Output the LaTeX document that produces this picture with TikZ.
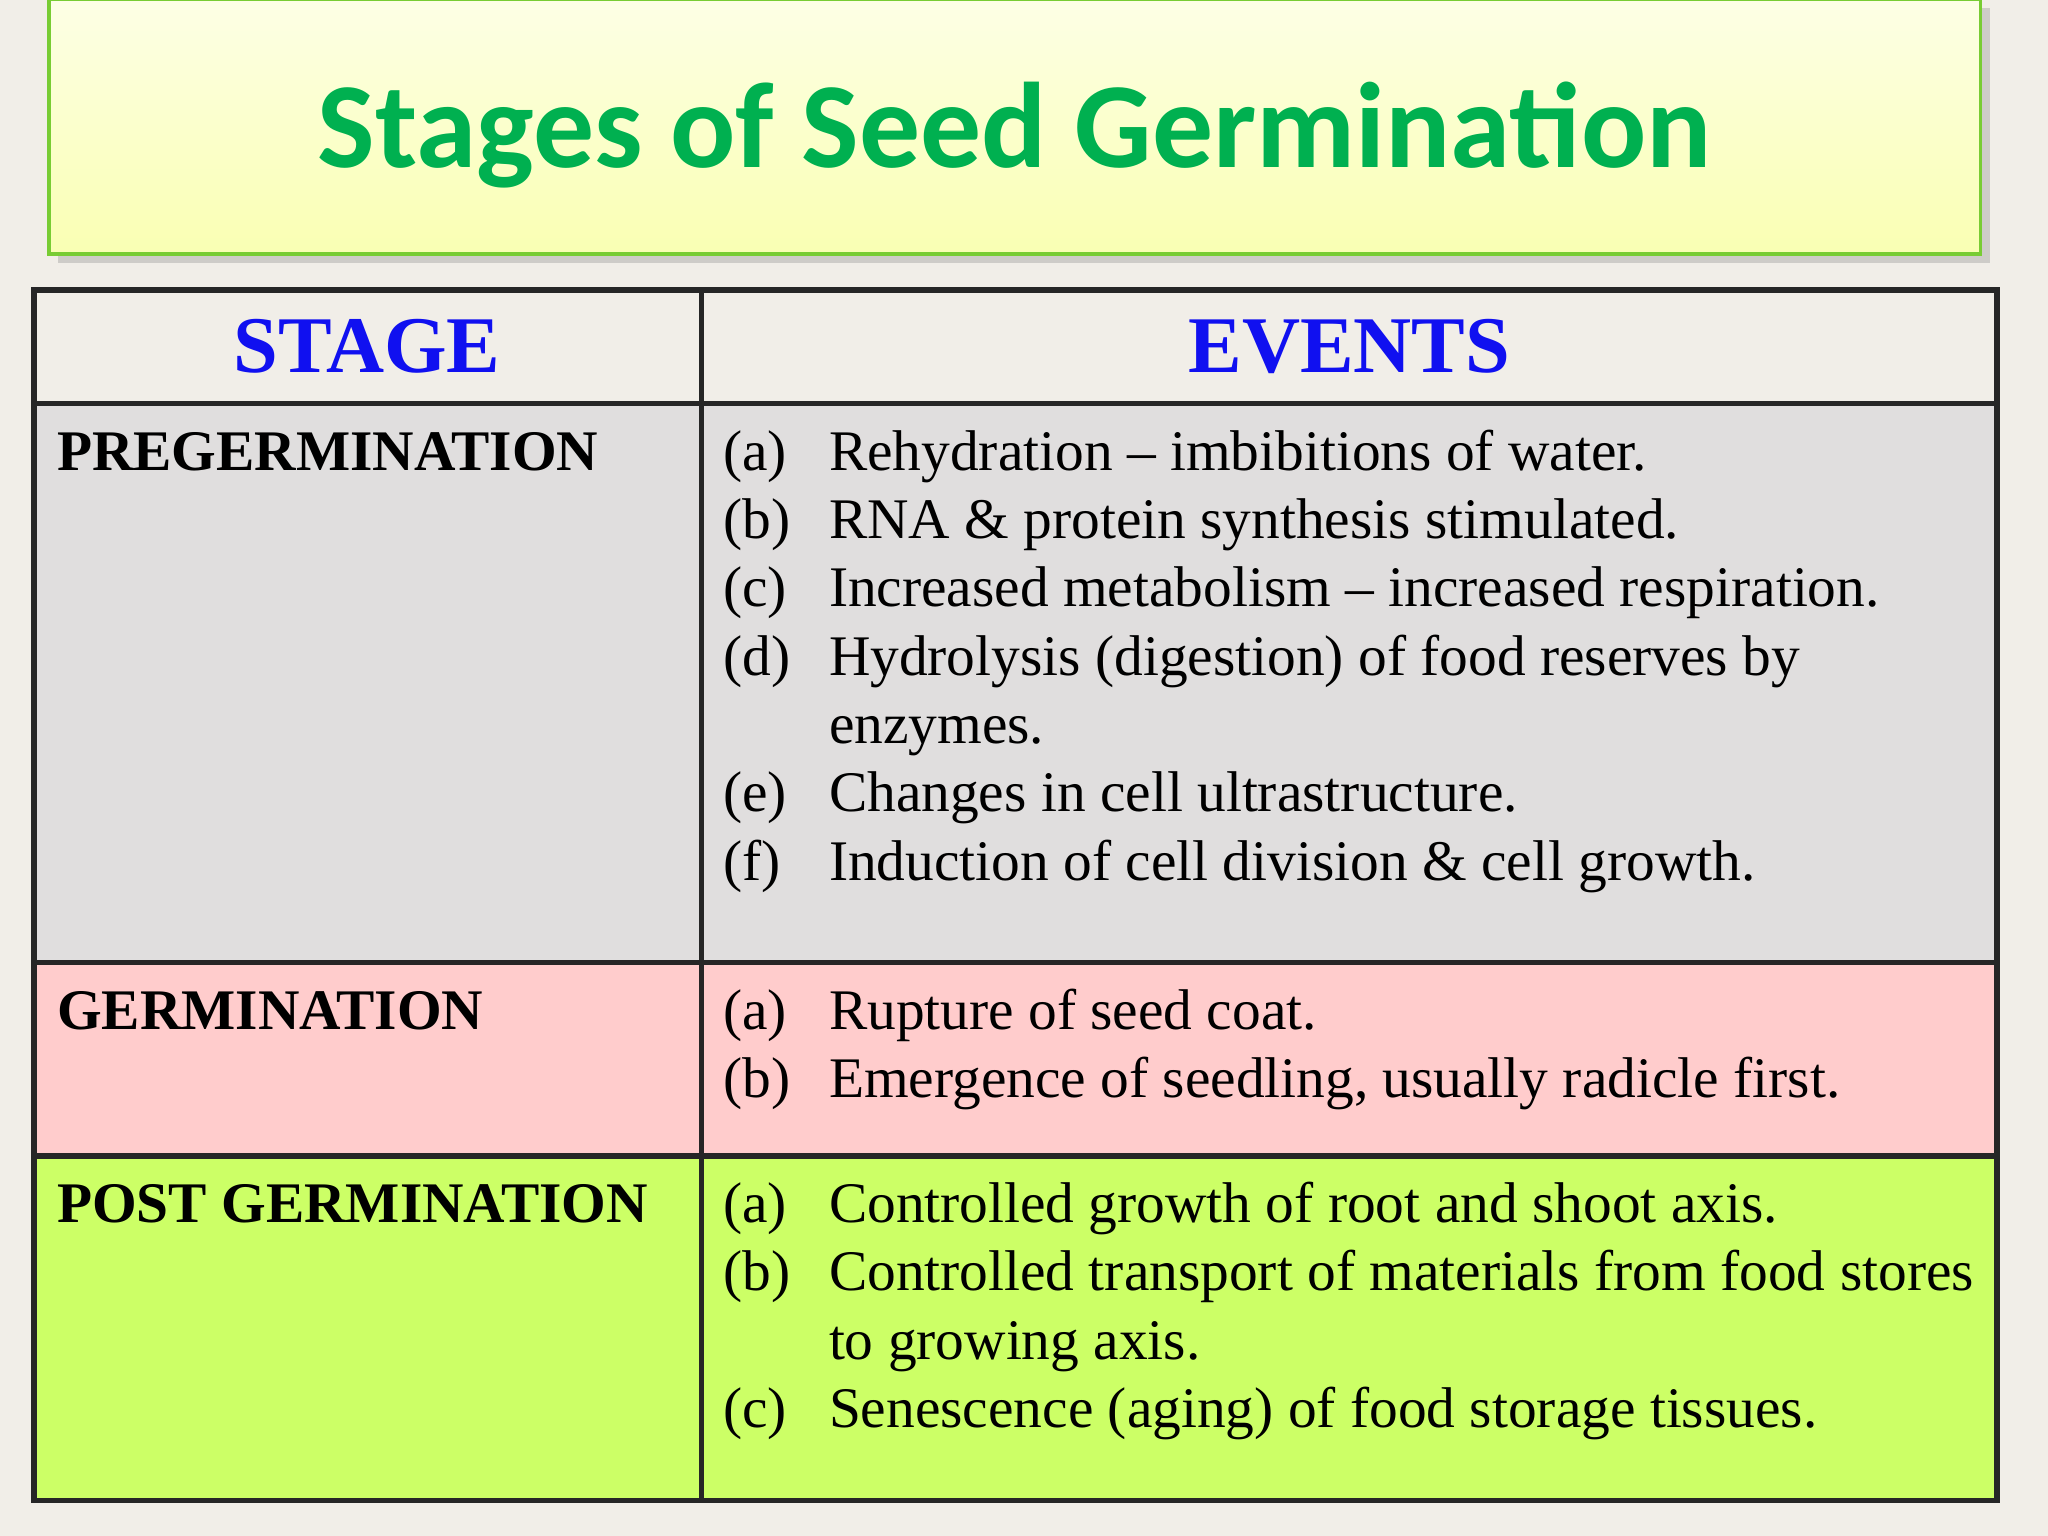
\documentclass[tikz,border=0pt]{standalone}
\usepackage{fontspec}
\setmainfont{Liberation Serif}
\newfontfamily\titlefont{Carlito}
\usetikzlibrary{shadows}
\definecolor{bg}{HTML}{F1EEE8}
\definecolor{tgreen}{HTML}{00B050}
\definecolor{grayrow}{HTML}{E0DEDE}
\definecolor{pinkrow}{HTML}{FFCCCC}
\definecolor{greenrow}{HTML}{CCFF66}
\definecolor{hblue}{HTML}{1010F0}
\begin{document}
\begin{tikzpicture}[x=0.01cm,y=-0.01cm,
  body/.style={anchor=base west,inner sep=0pt,font=\fontsize{12.5}{15}\selectfont},
  stagelbl/.style={anchor=base west,inner sep=0pt,font=\fontsize{12.5}{15}\selectfont\bfseries},
  head/.style={inner sep=0pt,text=hblue,font=\fontsize{17.5}{20}\selectfont\bfseries},
  cellline/.style={draw=black!85,line width=1.2pt}]
\fill[bg] (0,0) rectangle (1568,1176);
\useasboundingbox (0,0) rectangle (1568,1176);
% title
\node[draw=green!40!lime!60!gray,line width=0.8pt,top color=green!8!yellow!10,bottom color=lime!30!yellow!30,
  minimum width=14.78cm,minimum height=1.95cm,inner sep=0pt,
  drop shadow={shadow xshift=2pt,shadow yshift=-2pt,opacity=0.3}] (title) at (777,97) {};
\node[text=tgreen,font=\fontsize{26.5}{30}\selectfont\titlefont\bfseries] (tt) at (777,103) {Stages of Seed Germination};
% rows
\fill[bg] (26,222) rectangle (1529,309);
\fill[grayrow] (26,309) rectangle (1529,737);
\fill[pinkrow] (26,737) rectangle (1529,885);
\fill[greenrow] (26,885) rectangle (1529,1149);
\draw[cellline] (26,222) rectangle (1529,1149);
\draw[cellline] (537,222) -- (537,1149);
\draw[cellline] (26,309) -- (1529,309);
\draw[cellline] (26,737) -- (1529,737);
\draw[cellline] (26,885) -- (1529,885);
\node[head] (h1) at (281,265) {STAGE};
\node[head] (h2) at (1033,265) {EVENTS};
\node[stagelbl] (s1) at (43,360) {PREGERMINATION};
\node[stagelbl] (s2) at (43,788) {GERMINATION};
\node[stagelbl] (s3) at (43,936) {POST GERMINATION};
% events
\foreach \y/\l/\t [count=\i] in {
 360/(a)/{Rehydration -- imbibitions of water.},
 412/(b)/{RNA \& protein synthesis stimulated.},
 464/(c)/{Increased metabolism -- increased respiration.},
 517/(d)/{Hydrolysis (digestion) of food reserves by},
 569//{enzymes.},
 621/(e)/{Changes in cell ultrastructure.},
 674/(f)/{Induction of cell division \& cell growth.},
 788/(a)/{Rupture of seed coat.},
 840/(b)/{Emergence of seedling, usually radicle first.},
 936/(a)/{Controlled growth of root and shoot axis.},
 988/(b)/{Controlled transport of materials from food stores},
 1041//{to growing axis.},
 1093/(c)/{Senescence (aging) of food storage tissues.}}
{\node[body] (l\i) at (553,\y) {\l}; \node[body] (t\i) at (634,\y) {\t};}
\end{tikzpicture}
\end{document}
